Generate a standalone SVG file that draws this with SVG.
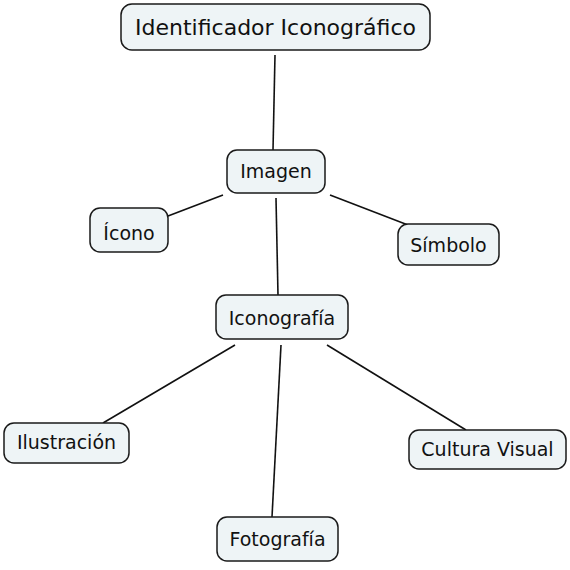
<svg xmlns="http://www.w3.org/2000/svg" width="570" height="570" viewBox="0 0 570 570">
<style>
.n rect{fill:#eef4f6;stroke:#1a1a1a;stroke-width:1.5}
.n text{font-family:"DejaVu Sans",Verdana,sans-serif;font-size:19px;fill:#111;text-anchor:middle;dominant-baseline:central}
.c line{stroke:#111;stroke-width:1.6}
</style>
<rect width="570" height="570" fill="#fff"/>
<g class="c" id="connectors">
<line x1="275" y1="55" x2="273" y2="150"/>
<line x1="223" y1="195" x2="168" y2="216"/>
<line x1="330" y1="195" x2="408" y2="225"/>
<line x1="276" y1="198" x2="278" y2="295"/>
<line x1="235" y1="345" x2="103" y2="423"/>
<line x1="281" y1="345" x2="272" y2="517"/>
<line x1="327" y1="345" x2="466" y2="430"/>
</g>
<g class="n" id="n-identificador"><rect x="121" y="4" width="309" height="46" rx="11"/><text x="275.5" y="27" style="font-size:22px">Identificador Iconográfico</text></g>
<g class="n" id="n-imagen"><rect x="227" y="150" width="98" height="43" rx="10"/><text x="276" y="171">Imagen</text></g>
<g class="n" id="n-icono"><rect x="90" y="208" width="78" height="44" rx="10"/><text x="129" y="233">Ícono</text></g>
<g class="n" id="n-simbolo"><rect x="398" y="224" width="101" height="41" rx="10"/><text x="448.5" y="245">Símbolo</text></g>
<g class="n" id="n-iconografia"><rect x="216" y="295" width="132" height="44" rx="10"/><text x="282" y="318">Iconografía</text></g>
<g class="n" id="n-ilustracion"><rect x="4" y="423" width="125" height="40" rx="10"/><text x="66.5" y="442">Ilustración</text></g>
<g class="n" id="n-cultura"><rect x="409" y="430" width="157" height="39" rx="10"/><text x="487.5" y="449">Cultura Visual</text></g>
<g class="n" id="n-fotografia"><rect x="217" y="517" width="121" height="44" rx="10"/><text x="277.5" y="539">Fotografía</text></g>
</svg>
